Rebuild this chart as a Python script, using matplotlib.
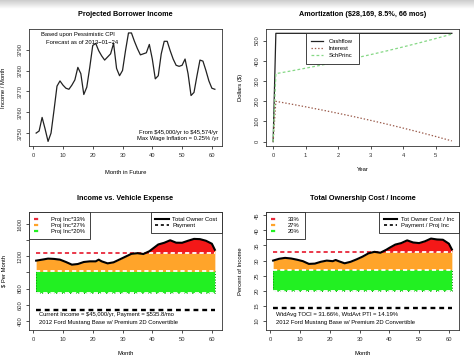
"""
plot.py

Four-panel loan / vehicle affordability summary, R base-graphics look.
"""
import numpy as np
import matplotlib
matplotlib.use('Agg')
import matplotlib.pyplot as plt
from matplotlib.lines import Line2D

plt.rcParams['font.family'] = ['Liberation Sans', 'DejaVu Sans']
plt.rcParams['lines.scale_dashes'] = False
plt.rcParams['text.parse_math'] = False   # plenty of literal "$" signs


# === Data =====================================================================

# Projected borrower income ($/month), months 1..61
inc_months = list(range(1, 62))
income = [3750, 3751, 3757.5, 3752, 3746, 3750, 3761, 3772.5, 3775, 3773,
          3771.5, 3771, 3773, 3775.5, 3781.5, 3778.5, 3768.5, 3772, 3781.5, 3792,
          3793, 3789.5, 3787, 3785, 3786.5, 3788, 3793, 3781, 3777.5, 3780,
          3789.5, 3798, 3798, 3794, 3790.5, 3787.5, 3788, 3788.5, 3792.5, 3785.5,
          3776, 3777.5, 3788, 3794, 3794, 3789.5, 3785.5, 3782.5, 3782, 3782.5,
          3785.5, 3778.5, 3768, 3769.5, 3777.5, 3785, 3784.5, 3780, 3775, 3771.5,
          3771]

# Amortization schedule ($28,169, 8.5%, 66 months), sampled by month
amort_months = [0, 1, 6, 12, 18, 24, 30, 36, 42, 48, 54, 60, 66]
cashflow = [0, 535.8, 535.8, 535.8, 535.8, 535.8, 535.8, 535.8, 535.8, 535.8,
            535.8, 535.8, 535.8]
interest = [0, 199.5, 187.5, 172.4, 156.7, 140.3, 123.2, 105.3, 86.7, 67.2,
            47.0, 25.8, 3.8]
sch_princ = [0, 336.3, 348.3, 363.4, 379.1, 395.5, 412.7, 430.5, 449.1, 468.6,
             488.8, 510.0, 532.0]

# Total ownership cost, $/month and percent of income
toc_months = [1, 3, 5, 7, 9, 11, 13, 15, 17, 19, 21, 22, 23, 25, 27, 29, 31, 33,
              35, 37, 39, 40, 42, 44, 46, 48, 50, 52, 54, 56, 58, 60, 61]
toc_dollars = [1146, 1158, 1171, 1167, 1158, 1129, 1096, 1104, 1129, 1137, 1137,
               1158, 1137, 1112, 1125, 1160, 1195, 1230, 1238, 1228, 1262, 1290,
               1346, 1367, 1398, 1368, 1367, 1392, 1415, 1412, 1392, 1355, 1280]
toc_pct = [30.0, 30.6, 30.9, 30.7, 30.3, 29.8, 28.9, 29.0, 29.6, 30.0, 29.8,
           30.2, 29.8, 29.1, 29.6, 30.4, 31.3, 32.4, 32.9, 32.6, 33.6, 34.2,
           35.3, 35.8, 36.7, 36.0, 35.8, 36.4, 37.3, 37.0, 36.9, 35.6, 33.7]

# Affordability thresholds (33% / 27% / 20% of income) and loan payment
levels_dollars = [1237.5, 1012.5, 750.0]
levels_pct = [33, 27, 20]
payment_dollars = 535.8
payment_pct = 14.2

level_labels_dollars = ['Proj Inc*33%', 'Proj Inc*27%', 'Proj Inc*20%']
level_labels_pct = ['33%', '27%', '20%']


# === Styling ==================================================================

W, H = 474.0, 357.0
FS = 4.2
RED, ORANGE, GREEN = '#f41818', '#ffa42a', '#22f022'
LEVEL_COLORS = ['#e8283a', ORANGE, GREEN]


def px_axes(fig, left, top, right, bottom):
    """Add axes from a pixel box (origin top-left)."""
    return fig.add_axes([left / W, 1 - bottom / H, (right - left) / W, (bottom - top) / H])


def r_style(ax, title, xlabel, ylabel, xlab_off, ylab_x):
    """Base-R looking box, ticks and labels."""
    for sp in ax.spines.values():
        sp.set_linewidth(0.6)
        sp.set_color('#333333')
    ax.tick_params(direction='out', length=2.5, width=0.6, labelsize=FS,
                   colors='#333333', pad=2.4)
    ax.tick_params(axis='y', labelrotation=90, pad=2.0)
    for lab in ax.get_yticklabels():
        lab.set_va('center')
    ax.set_title(title, fontsize=5.2, fontweight='bold', pad=9.0)
    ax.set_xlabel(xlabel, fontsize=FS, va='center')
    ax.set_ylabel(ylabel, fontsize=FS, va='center')
    ax.xaxis.set_label_coords(0.5, xlab_off)
    ax.yaxis.set_label_coords(ylab_x, 0.5)


def frame_legend(leg):
    fr = leg.get_frame()
    fr.set_linewidth(0.6)
    fr.set_edgecolor('#222222')
    fr.set_boxstyle('square', pad=0)


def plot_cost_panel(ax, toc, levels, payment, lev_labels, cost_label, pay_label, note):
    x0, x1 = toc_months[0], toc_months[-1]
    toc = np.array(toc, dtype=float)
    hi, mid, lo = levels
    # green band, orange up to cost, red above the 33% line
    ax.fill_between([x0, x1], lo, mid, color=GREEN, lw=0, zorder=1)
    ax.plot([x0, x0, x1, x1], [mid, lo, lo, mid], color='#119911', lw=0.7,
            ls=(0, (0.8, 1.2)), zorder=1.5)
    ax.fill_between(toc_months, mid, toc, color=ORANGE, lw=0, zorder=1)
    ax.fill_between(toc_months, hi, toc, where=toc > hi, interpolate=True,
                    color=RED, lw=0, zorder=1.2)
    ax.plot([x0, x1], [hi, hi], color=LEVEL_COLORS[0], lw=1.3, dashes=(3, 2.2), zorder=2)
    over = np.where(toc >= hi, hi, np.nan)
    ax.plot(toc_months, over, color='white', lw=1.3, dashes=(3, 2.2), zorder=2.1)
    ax.plot([x0, x1], [mid, mid], color='white', lw=1.3, dashes=(3, 2.2), zorder=2)
    ax.plot([x0, x1], [lo, lo], color='white', lw=1.3, dashes=(3, 2.2), zorder=2)
    ax.plot(toc_months, toc, color='black', lw=1.5, zorder=3)
    ax.plot([x0, x1], [payment, payment], color='black', lw=1.7, dashes=(3.5, 2.8), zorder=3)
    ax.set_xlim(-1.4, 63.4)
    ax.set_xticks([0, 10, 20, 30, 40, 50, 60])

    lev_handles = [Line2D([], [], color=c, lw=1.6, dashes=(3, 30)) for c in LEVEL_COLORS]
    leg1 = ax.legend(lev_handles, lev_labels, loc='upper left', borderaxespad=0,
                     fontsize=FS, handlelength=2.2, handletextpad=0.8,
                     borderpad=0.8, labelspacing=0.22, framealpha=1, fancybox=False)
    frame_legend(leg1)
    ax.add_artist(leg1)
    cost_handles = [Line2D([], [], color='black', lw=1.5),
                    Line2D([], [], color='black', lw=1.2, dashes=(2.2, 2.0))]
    leg2 = ax.legend(cost_handles, [cost_label, pay_label], loc='upper right',
                     borderaxespad=0, fontsize=FS, handlelength=2.3,
                     handletextpad=0.6, borderpad=0.8, labelspacing=0.22,
                     framealpha=1, fancybox=False)
    frame_legend(leg2)

    ax.text(0.053, 0.13, note, transform=ax.transAxes, fontsize=FS, va='center', zorder=4)
    ax.text(0.053, 0.065, '2012 Ford Mustang Base w/ Premium 2D Convertible',
            transform=ax.transAxes, fontsize=FS, va='center', zorder=4)


# === Figure ===================================================================

fig = plt.figure(figsize=(W / 100, H / 100), dpi=100)

# screenshot shadow along the top edge
band = fig.add_axes([0, 1 - 9 / H, 1, 9 / H])
band.imshow(np.linspace(0.80, 1.0, 30).reshape(-1, 1), cmap='gray', vmin=0, vmax=1,
            aspect='auto', extent=[0, 1, 0, 1])
band.axis('off')

# --- Projected Borrower Income
ax = px_axes(fig, 29, 29, 222, 146)
ax.plot(inc_months, income, color='#222222', lw=0.9)
ax.set_xlim(-1.4, 63.4)
ax.set_ylim(3743.8, 3799.9)
ax.set_xticks([0, 10, 20, 30, 40, 50, 60])
ax.set_yticks([3750, 3760, 3770, 3780, 3790])
r_style(ax, 'Projected Borrower Income', 'Month in Future', 'Income / Month',
        -0.225, -0.13)
ax.text(0.255, 0.95, 'Based upon Pessimistic CPI', transform=ax.transAxes,
        fontsize=FS, ha='center', va='center')
ax.text(0.275, 0.887, 'Forecast as of 2013\u221201\u221224', transform=ax.transAxes,
        fontsize=FS, ha='center', va='center')
ax.text(0.98, 0.118, 'From $45,000/yr to $45,574/yr', transform=ax.transAxes,
        fontsize=FS, ha='right', va='center')
ax.text(0.98, 0.06, 'Max Wage Inflation = 0.25% /yr', transform=ax.transAxes,
        fontsize=FS, ha='right', va='center')

# --- Amortization
ax = px_axes(fig, 266, 29, 459, 146)
years = [m / 12 for m in amort_months]
ax.plot(years, cashflow, color='#222222', lw=0.9, label='Cashflow')
ax.plot(years, interest, color='#9a5a4a', lw=0.9, ls=(0, (1, 1.4)), label='Interest')
ax.plot(years, sch_princ, color='#86d886', lw=0.9, ls=(0, (2, 1.6)), label='SchPrinc')
ax.set_xlim(-0.22, 5.72)
ax.set_ylim(-21.4, 557.2)
ax.set_xticks([0, 1, 2, 3, 4, 5])
ax.set_yticks([0, 100, 200, 300, 400, 500])
r_style(ax, 'Amortization ($28,169, 8.5%, 66 mos)', 'Year', 'Dollars ($)',
        -0.205, -0.13)
leg = ax.legend(loc='upper left', bbox_to_anchor=(1.0, 535.8),
                bbox_transform=ax.transData, borderaxespad=0, fontsize=FS,
                handlelength=2.0, handletextpad=1.0, borderpad=1.0,
                labelspacing=0.3, framealpha=1, fancybox=False)
frame_legend(leg)

# --- Income vs. Vehicle Expense
ax = px_axes(fig, 29, 212, 222, 330)
plot_cost_panel(ax, toc_dollars, levels_dollars, payment_dollars,
                level_labels_dollars, 'Total Owner Cost', 'Payment',
                'Current Income = $45,000/yr, Payment = $535.8/mo')
ax.set_ylim(287, 1748)
ax.set_yticks([400, 600, 800, 1000, 1200, 1400, 1600])
ax.set_yticklabels(['400', '600', '800', '', '1200', '', '1600'])
r_style(ax, 'Income vs. Vehicle Expense', 'Month', '$ Per Month', -0.195, -0.13)

# --- Total Ownership Cost / Income
ax = px_axes(fig, 266, 212, 459, 330)
plot_cost_panel(ax, toc_pct, levels_pct, payment_pct,
                level_labels_pct, 'Tot Owner Cost / Inc', 'Payment / Proj Inc',
                'WtdAvg TOCI = 31.66%, WtdAvt PTI = 14.19%')
ax.set_ylim(7.0, 46.1)
ax.set_yticks([10, 15, 20, 25, 30, 35, 40, 45])
r_style(ax, 'Total Ownership Cost / Income', 'Month', 'Percent of Income', -0.195, -0.13)

fig.savefig('out.png', dpi=100)
plt.close(fig)
